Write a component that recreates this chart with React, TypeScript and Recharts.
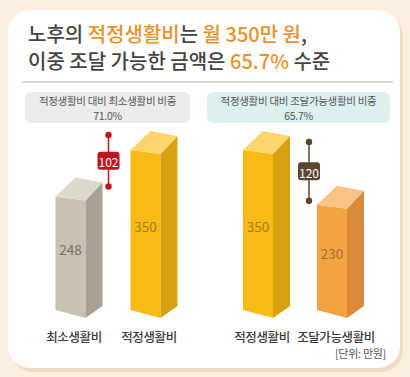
import React from "react";
import { BarChart, Bar, XAxis, YAxis, LabelList } from "recharts";

// 값 (단위: 만원)
const leftCategories = ["최소생활비", "적정생활비"];
const leftValues = [248, 350];
const rightCategories = ["적정생활비", "조달가능생활비"];
const rightValues = [350, 230];
const ratioTitles = ["적정생활비 대비 최소생활비 비중", "적정생활비 대비 조달가능생활비 비중"];
const ratioValues = ["71.0%", "65.7%"];

const FONT = "'Noto Sans CJK KR', 'Noto Sans', sans-serif";

// 막대 색 (정면 / 측면 / 윗면 / 숫자)
const PALETTE: Record<string, { front: string; side: string; top: string; text: string }> = {
  최소생활비: { front: "#c9c2b3", side: "#a8a193", top: "#ddd8cd", text: "#777067" },
  적정생활비: { front: "#f8bb16", side: "#d9a012", top: "#fcd56c", text: "#a07c1c" },
  조달가능생활비: { front: "#f2a343", side: "#d98a3a", top: "#f8c384", text: "#ad6a2a" },
};

type Connector = {
  hi: number;
  lo: number;
  drawOn: number;
  dx: number;
  topOff: number;
  botOff: number;
  color: string;
};

function makeShape(data: { name: string; value: number }[], conn: Connector) {
  return (props: any) => {
    const { x, y, width: w, height: h, payload, index } = props;
    const c = PALETTE[payload.name];
    const s = 17;
    let marker = null;
    if (index === conn.drawOn) {
      const ppu = h / payload.value;
      const base = y + h;
      const hiY = base - data[conn.hi].value * ppu;
      const loY = base - data[conn.lo].value * ppu;
      const lx = x + conn.dx;
      const t = hiY - conn.topOff;
      const b = loY - conn.botOff;
      const mid = (t + b) / 2;
      const diff = data[conn.hi].value - data[conn.lo].value;
      marker = (
        <g>
          <line x1={lx} x2={lx} y1={t} y2={b} stroke={conn.color} strokeWidth={1.5} />
          <circle cx={lx} cy={t} r={3.2} fill={conn.color} />
          <circle cx={lx} cy={b} r={3.2} fill={conn.color} />
          <rect x={lx - 11} y={mid - 9} width={22} height={18} rx={3} fill={conn.color} />
          <text x={lx} y={mid + 1} textAnchor="middle" dominantBaseline="central" fill="#fff" fontSize={12} fontFamily={FONT}>
            {diff}
          </text>
        </g>
      );
    }
    return (
      <g>
        <path d={`M${x},${y} L${x + w},${y + 4} L${x + w},${y + h + 8} L${x},${y + h} Z`} fill={c.front} />
        <path d={`M${x + w},${y + 4} L${x + w + s},${y - 14} L${x + w + s},${y + h - 4} L${x + w},${y + h + 8} Z`} fill={c.side} />
        <path d={`M${x},${y} L${x + 20},${y - 19} L${x + w + s},${y - 14} L${x + w},${y + 4} Z`} fill={c.top} />
        {marker}
      </g>
    );
  };
}

const CategoryTick = (props: any) => {
  const { x, y, payload } = props;
  return (
    <text
      x={x + 4}
      y={y + 18}
      textAnchor="middle"
      dominantBaseline="central"
      fill="#3a3a3a"
      fontSize={12.5}
      letterSpacing={-0.4}
      fontFamily={FONT}
      fontWeight={500}
    >
      {payload.value}
    </text>
  );
};

function Group(props: {
  categories: string[];
  values: number[];
  left: number;
  marginLeft: number;
  marginRight: number;
  conn: Connector;
}) {
  const data = props.categories.map((name, i) => ({ name, value: props.values[i] }));
  return (
    <div style={{ position: "absolute", left: props.left, top: 0 }}>
      <BarChart
        width={205}
        height={377}
        data={data}
        margin={{ top: 127, right: props.marginRight, bottom: 27, left: props.marginLeft }}
        barSize={30}
      >
        <XAxis dataKey="name" axisLine={false} tickLine={false} height={40} tick={<CategoryTick />} interval={0} />
        <YAxis hide domain={[0, 400]} />
        <Bar dataKey="value" isAnimationActive={false} shape={makeShape(data, props.conn)}>
          <LabelList
            dataKey="value"
            content={(p: any) => {
              const col = PALETTE[data[p.index].name].text;
              return (
                <text x={p.x + p.width / 2} y={p.y + p.height / 2 - 4} textAnchor="middle" dominantBaseline="central" fill={col} fontSize={13.5} fontFamily={FONT}>
                  {p.value}
                </text>
              );
            }}
          />
        </Bar>
      </BarChart>
    </div>
  );
}

const hl = { color: "#e8912a" };

export default function App() {
  return (
    <div style={{ position: "absolute", left: 0, top: 0, width: 410, height: 377, background: "#fcefdf", overflow: "hidden", fontFamily: FONT }}>
      <div
        style={{
          position: "absolute",
          left: 8,
          top: 10,
          width: 392,
          height: 358,
          background: "#fff",
          borderRadius: 22,
          boxShadow: "3px 4px 0 #f1dcc3",
        }}
      />
      <div style={{ position: "absolute", left: 28, top: 20, fontSize: 20, lineHeight: "27px", fontWeight: 500, color: "#444", whiteSpace: "nowrap" }}>
        <div>
          노후의 <span style={hl}>적정생활비</span>는 <span style={hl}>월 350만 원</span>,
        </div>
        <div>
          이중 조달 가능한 금액은 <span style={hl}>65.7%</span> 수준
        </div>
      </div>
      <div style={{ position: "absolute", left: 22, top: 81, width: 371, height: 2, background: "#dadada" }} />
      {[0, 1].map((i) => (
        <div
          key={i}
          style={{
            position: "absolute",
            left: i === 0 ? 25 : 207,
            top: 92,
            width: i === 0 ? 165 : 183,
            height: 31,
            background: i === 0 ? "#ececec" : "#dcf0f0",
            borderRadius: 6,
            textAlign: "center",
            fontSize: 10.5,
            letterSpacing: -0.3,
            lineHeight: "15px",
            paddingTop: 1,
            boxSizing: "border-box",
            color: "#555",
            whiteSpace: "nowrap",
          }}
        >
          <div>{ratioTitles[i]}</div>
          <div>{ratioValues[i]}</div>
        </div>
      ))}
      <Group
        categories={leftCategories}
        values={leftValues}
        left={0}
        marginLeft={32.5}
        marginRight={22.5}
        conn={{ hi: 1, lo: 0, drawOn: 1, dx: -22, topOff: 15, botOff: 10, color: "#c0141e" }}
      />
      <Group
        categories={rightCategories}
        values={rightValues}
        left={205}
        marginLeft={16}
        marginRight={41}
        conn={{ hi: 0, lo: 1, drawOn: 1, dx: -8, topOff: 8, botOff: 4, color: "#5b4630" }}
      />
      <div style={{ position: "absolute", right: 24, top: 345, fontSize: 11, color: "#555", letterSpacing: -0.3 }}>[단위: 만원]</div>
    </div>
  );
}
